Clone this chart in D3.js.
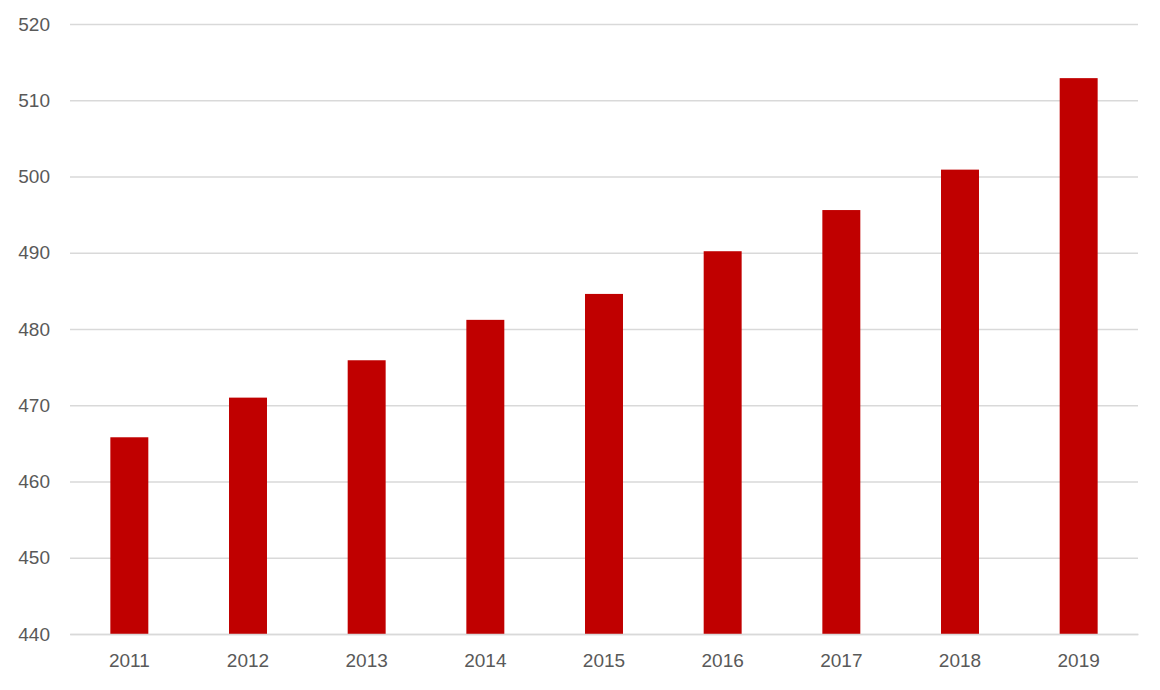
<!DOCTYPE html>
<html><head><meta charset="utf-8">
<script src="https://cdn.jsdelivr.net/npm/d3@7"></script>
<style>body{margin:0;background:#fff}</style>
</head><body><div id="chart"></div>
<script>
const years = ["2011","2012","2013","2014","2015","2016","2017","2018","2019"];
const values = [465.8, 471.0, 475.9, 481.2, 484.6, 490.2, 495.6, 500.9, 512.9];
const yTicks = [440, 450, 460, 470, 480, 490, 500, 510, 520];

const width = 1160, height = 690;
const marginLeft = 70, marginRight = 22, marginTop = 24, marginBottom = 56;

const x = d3.scaleBand().domain(years)
  .range([marginLeft, width - marginRight]).paddingInner(0.68).paddingOuter(0.34);
const y = d3.scaleLinear().domain([440, 520])
  .range([height - marginBottom, marginTop]);

const svg = d3.create("svg").attr("width", width).attr("height", height)
  .style("font-family", "Calibri, Carlito, 'Liberation Sans', sans-serif");

// grid lines
svg.append("g")
  .attr("transform", `translate(${marginLeft},0)`)
  .call(d3.axisLeft(y).tickValues(yTicks).tickSize(-(width - marginLeft - marginRight)).tickFormat(""))
  .call(g => g.select(".domain").remove())
  .call(g => g.selectAll("line").attr("stroke", "#d9d9d9").attr("stroke-width", 1.3));

// y labels
svg.append("g")
  .attr("transform", `translate(${marginLeft},0)`)
  .call(d3.axisLeft(y).tickValues(yTicks).tickSize(0).tickPadding(20))
  .call(g => g.select(".domain").remove())
  .call(g => g.selectAll("text").attr("fill", "#595959").attr("font-size", 19));

svg.append("g").selectAll("rect").data(values).join("rect")
  .attr("x", (d, i) => x(years[i]))
  .attr("y", d => y(d))
  .attr("width", x.bandwidth())
  .attr("height", d => y(440) - y(d))
  .attr("fill", "#c00000");

// x axis
svg.append("g")
  .attr("transform", `translate(0,${height - marginBottom})`)
  .call(d3.axisBottom(x).tickSize(0).tickPadding(20))
  .call(g => g.select(".domain").attr("stroke", "#d9d9d9").attr("stroke-width", 1.3))
  .call(g => g.selectAll("text").attr("fill", "#595959").attr("font-size", 19));

document.getElementById("chart").append(svg.node());
</script></body></html>
